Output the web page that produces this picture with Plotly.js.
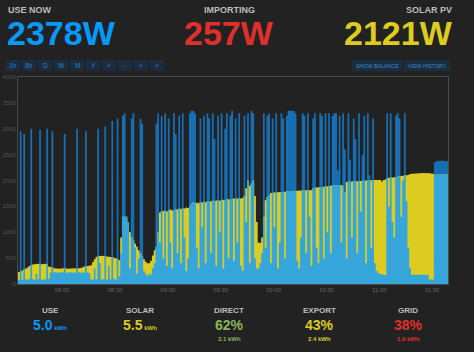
<!DOCTYPE html>
<html>
<head>
<meta charset="utf-8">
<script src="https://cdn.plot.ly/plotly-3.0.1.min.js"></script>
<style>
  html, body { margin: 0; padding: 0; background: #222222; }
  #chart { width: 474px; height: 352px; }
</style>
</head>
<body>
<div id="chart"></div>
<script>
// ---- Data (1-minute samples from 07:35) ----
const startTime = "07:35";

const useW = [
  80, 2950, 80, 2900, 90, 80, 100, 3000, 90, 80,
  200, 90, 2980, 80, 85, 90, 3000, 100, 220, 2950,
  220, 225, 215, 220, 230, 220, 2900, 215, 220, 225,
  220, 215, 220, 3000, 225, 220, 215, 220, 2950, 220,
  210, 90, 80, 300, 90, 3000, 400, 85, 90, 3050,
  80, 350, 90, 3150, 100, 80, 3200, 150, 600,
  3250, 3300, 1300, 1200, 300, 3200, 3300, 700, 200, 500,
  3200, 3100, 250, 200, 150, 200, 180, 300, 400, 3100,
  3300, 800,
  3250, 500, 3300, 350, 3200, 800, 300, 3300, 2900, 600,
  3250, 400, 3300, 900, 250, 500, 3300, 3350, 3350, 3300,
  700, 300, 3200, 1100, 3250, 400, 3300, 3200, 600, 3300,
  2800, 350, 3250, 1000, 3300, 300, 3000, 3300, 500, 3250,
  3350, 450, 3200, 800, 3300, 350, 250, 3250, 1200, 3300,
  400, 3350, 3300, 500, 300,
  300, 400, 600, 3300, 700, 3250, 3300, 400, 3200, 1100,
  3300, 300, 800, 3300, 3200, 500, 3250, 3350, 3350, 3350,
  3350, 3300, 450, 300, 900, 3300, 3250, 600, 3300, 1300,
  350, 3200, 3300, 700, 400, 3300, 3250, 500, 3300, 1000,
  3300, 600, 3250, 3300,
  3300, 2200, 3250, 800, 3300, 2600, 500, 3300, 2400, 900,
  3200, 2800, 600, 3300, 1400, 2500, 3250, 400, 3300, 2100,
  700, 3200, 400, 250,
  210, 200, 190, 180, 175,
  3300, 1500, 3300, 1200, 900, 3250, 3300, 3200, 1300, 2000, 3300, 1600, 700,
  300, 180, 180, 180, 180, 180, 180, 180, 180, 180, 180, 85, 85, 85,
  2350, 2370, 2380, 2375, 2385, 2380, 2370, 2375, 2378
];

const solarW = [
  230, 240, 260,
  290, 300, 320,
  350, 365, 375, 380,
  385, 390, 385, 380, 385, 390, 380,
  340, 330, 320,
  305, 300, 300, 295, 300, 305, 300, 300, 295, 300, 300, 305, 300, 300, 305, 310, 320,
  340, 350, 350, 355, 360,
  420, 480, 520, 535,
  540, 545, 540, 535, 530, 525, 520, 515, 505, 500,
  480, 460, 900,
  1300, 1300, 1300, 1200,
  1000, 900, 850,
  780, 720, 650, 600, 540, 480, 430, 400,
  400,
  450, 550, 650, 715,
  1000, 1380,
  1400, 1410, 1420, 1400, 1430, 1440, 1420, 1430, 1450, 1440, 1460, 1450, 1470, 1460, 1480, 1470, 1500,
  1550, 1580,
  1560, 1570, 1560, 1580, 1575, 1590, 1580, 1600, 1590, 1600, 1610, 1600, 1615, 1620, 1610,
  1625, 1630, 1620, 1635, 1640, 1630, 1640, 1650, 1645, 1650, 1660, 1650, 1660, 1700,
  1850,
  2000, 1900, 1950, 2000,
  1700, 1200,
  800, 790, 900,
  1300, 1620, 1680, 1720,
  1760, 1765, 1770, 1770, 1775, 1780, 1775, 1780, 1785, 1790, 1785, 1790,
  1795, 1800, 1795, 1800, 1805, 1800, 1810, 1805, 1810, 1815, 1810, 1815,
  1855, 1860, 1865, 1870, 1870, 1875, 1880, 1885, 1890, 1895, 1900, 1905, 1910,
  1910, 1910, 1915, 1910, 1900,
  1780,
  1970, 1975, 1975, 1980, 1980, 1985, 1985, 1990, 1990, 1995, 1995, 2000, 2000, 2000, 2005, 2005, 2010, 2010,
  2010, 2010, 1980, 2010, 2020,
  2050, 2055, 2060, 2060, 2065, 2070, 2075, 2080, 2085, 2090, 2095, 2100, 2105,
  2125, 2130, 2130, 2135, 2135, 2140, 2140, 2145, 2145, 2140, 2145, 2140, 2135, 2130,
  2110, 2115, 2110, 2115, 2120, 2115, 2120, 2118, 2121
];

const headline = { useNow: "2378W", importing: "257W", solarPv: "2121W" };
const timeButtons = ["1h", "8h", "D", "W", "M", "Y", "+", "-", "&lt;", "&gt;"];
const actionButtons = ["SHOW BALANCE", "VIEW HISTORY"];
const statLabels = ["USE", "SOLAR", "DIRECT", "EXPORT", "GRID"];
const statValues = ["5.0", "5.5", "62%", "43%", "38%"];
const statSubs = ["kWh", "kWh", "3.1 kWh", "2.4 kWh", "1.9 kWh"];

// ---- Build time axis and derived overlap series ----
function pad(n) { return (n < 10 ? "0" : "") + n; }
const [sh, sm] = startTime.split(":").map(Number);
const times = useW.map((_, i) => {
  const t = sh * 60 + sm + i;
  return "2024-05-01 " + pad(Math.floor(t / 60)) + ":" + pad(t % 60);
});
const directW = useW.map((u, i) => Math.min(u, solarW[i]));  // solar used directly

// ---- Styling ----
const BLUE = "#0699fa", YELLOW = "#dccc1f", RED = "#e0302e", GREEN = "#8ab35c";
const USE_ONLY = "#186eb2", OVERLAP = "#36a6da";
const FONT = "Liberation Sans, Arial, sans-serif";
const W = 474, H = 352;
const M = { l: 18, r: 26, t: 77, b: 68 };
const PW = W - M.l - M.r, PH = H - M.t - M.b;
const px = x => (x - M.l) / PW;
const py = y => (H - M.b - y) / PH;

const traces = [
  { x: times, y: useW, type: "scatter", mode: "lines", fill: "tozeroy",
    fillcolor: USE_ONLY, line: { color: USE_ONLY, width: 0, shape: "hv" }, hoverinfo: "skip", name: "use" },
  { x: times, y: solarW, type: "scatter", mode: "lines", fill: "tozeroy",
    fillcolor: YELLOW, line: { color: YELLOW, width: 0, shape: "hv" }, hoverinfo: "skip", name: "solar" },
  { x: times, y: directW, type: "scatter", mode: "lines", fill: "tozeroy",
    fillcolor: OVERLAP, line: { color: OVERLAP, width: 0, shape: "hv" }, hoverinfo: "skip", name: "direct" }
];

const ann = [];
const shapes = [];
function txt(x, y, text, size, color, anchor) {
  ann.push({ xref: "paper", yref: "paper", x: px(x), y: py(y), text: text,
    showarrow: false, xanchor: anchor || "center", yanchor: "middle",
    font: { family: FONT, size: size, color: color } });
}

// Header
txt(6, 10, "<b>USE NOW</b>", 9, "#bdbdbd", "left");
txt(5, 33, "<b>" + headline.useNow + "</b>", 34, BLUE, "left");
txt(229, 10, "<b>IMPORTING</b>", 9, "#bdbdbd", "center");
txt(229, 33, "<b>" + headline.importing + "</b>", 34, RED, "center");
txt(454, 10, "<b>SOLAR PV</b>", 9, "#bdbdbd", "right");
txt(455, 33, "<b>" + headline.solarPv + "</b>", 34, YELLOW, "right");

// Buttons
const btnX = [6, 22, 38, 54, 70, 86, 102, 118, 134, 150];
timeButtons.forEach((b, i) => {
  shapes.push({ type: "rect", xref: "paper", yref: "paper", x0: px(btnX[i]), x1: px(btnX[i] + 14),
    y0: py(60), y1: py(71), fillcolor: "#1b2d3e", line: { width: 0 } });
  txt(btnX[i] + 7, 65.5, b, 6.5, "#2b80cf", "center");
});
const actX = [[352, 402], [404, 450]];
actionButtons.forEach((b, i) => {
  shapes.push({ type: "rect", xref: "paper", yref: "paper", x0: px(actX[i][0]), x1: px(actX[i][1]),
    y0: py(60), y1: py(71), fillcolor: "#1b2d3e", line: { width: 0 } });
  txt((actX[i][0] + actX[i][1]) / 2, 65.5, b, 5.3, "#3a8bd3", "center");
});

// Footer stats
const statX = [50, 140, 229, 319, 408];
const statColor = [BLUE, YELLOW, GREEN, YELLOW, RED];
statLabels.forEach((l, i) => {
  txt(statX[i], 310.5, "<b>" + l + "</b>", 8, "#bdbdbd", "center");
  if (i < 2) {
    txt(statX[i], 325, "<b>" + statValues[i] + '</b><span style="font-size:6px"><b> ' + statSubs[i] + "</b></span>", 14, statColor[i], "center");
  } else {
    txt(statX[i], 325, "<b>" + statValues[i] + "</b>", 14, statColor[i], "center");
    txt(statX[i], 338.5, "<b>" + statSubs[i] + "</b>", 6, statColor[i], "center");
  }
});

const layout = {
  width: W, height: H,
  margin: M,
  paper_bgcolor: "#222222", plot_bgcolor: "#222222",
  showlegend: false,
  font: { family: FONT, color: "#666" },
  xaxis: {
    type: "date", range: ["2024-05-01 07:35", "2024-05-01 11:39"],
    tickformat: "%H:%M", dtick: 30 * 60 * 1000, tick0: "2024-05-01 08:00",
    showgrid: false, zeroline: false, showline: true, mirror: true, linecolor: "#4a4a4a", linewidth: 1,
    ticks: "", tickfont: { size: 6, color: "#666" }
  },
  yaxis: {
    range: [0, 4000], dtick: 500, showgrid: false, zeroline: false,
    showline: true, mirror: true, linecolor: "#4a4a4a", linewidth: 1,
    ticks: "", tickfont: { size: 6, color: "#555" }
  },
  annotations: ann,
  shapes: shapes
};

Plotly.newPlot("chart", traces, layout, { staticPlot: true, displayModeBar: false });
</script>
</body>
</html>
